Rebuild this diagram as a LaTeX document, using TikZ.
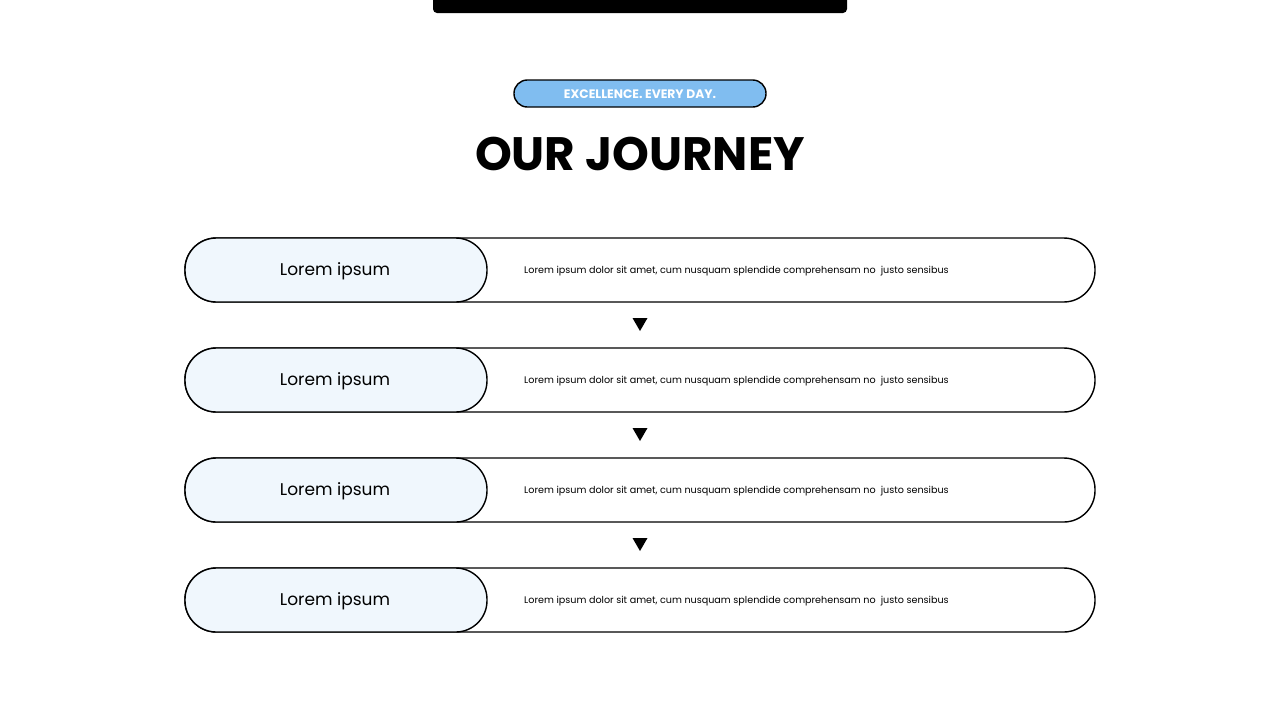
\documentclass[tikz,border=0pt]{standalone}
\usepackage{fontspec}
\setmainfont{Poppins}
\usetikzlibrary{positioning}
\definecolor{tagblue}{HTML}{80BDF0}
\definecolor{pale}{HTML}{F0F7FD}
\tikzset{
  pill/.style={draw=black, line width=1.2pt, rounded corners=0.94cm},
  head/.style={font=\fontsize{14.5}{16}\selectfont},
  desc/.style={font=\fontsize{8.2}{10}\selectfont, anchor=west, inner sep=0pt},
}
\begin{document}
\begin{tikzpicture}[x=0.03cm,y=-0.03cm]
        \useasboundingbox (0,0) rectangle (1280,720);
        % top bar
        \fill [black, rounded corners=0.12cm] (433,-20) rectangle (847,13);
        % tag and title
        \draw [fill=tagblue, line width=1.2pt, rounded corners=0.4cm] (514,80) rectangle (766,107);
        \node (tag) at (640,94) {\fontsize{10.5}{12}\selectfont\bfseries\color{white}EXCELLENCE. EVERY DAY.};
        \node (title) at (640,154) {\fontsize{40}{44}\selectfont\bfseries OUR JOURNEY};
        % rows
        \foreach \y/\n in {270/1,380/2,490/3,600/4} {
          \draw [pill, fill=white] (185,\y-32) rectangle (1095,\y+32);
          \draw [pill, fill=pale] (185,\y-32) rectangle (487,\y+32);
          \node [head] (step\n) at (335,\y+1.5) {Lorem ipsum};
          \node [desc] (text\n) at (524,\y+1) {Lorem ipsum dolor sit amet, cum nusquam splendide comprehensam no\ \ justo sensibus};
        }
        % arrows between rows
        \foreach \y in {325,435,545} {
          \fill [black] (632.5,\y-7) -- (647.5,\y-7) -- (640,\y+6) -- cycle;
        }
\end{tikzpicture}
\end{document}
